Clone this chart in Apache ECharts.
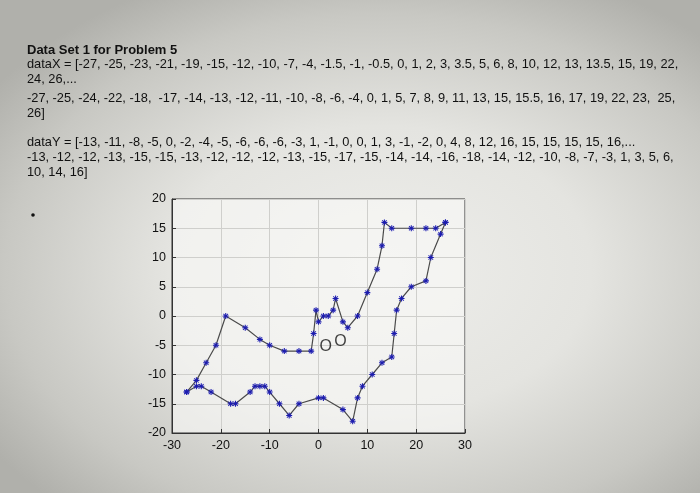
<!DOCTYPE html>
<html>
<head>
<meta charset="utf-8">
<script src="https://cdn.jsdelivr.net/npm/echarts@6/dist/echarts.min.js"></script>
<style>
html,body{margin:0;padding:0;width:700px;height:493px;overflow:hidden;}
body{background:radial-gradient(ellipse 470px 320px at 380px 270px,#eeeeeb 0%,#e4e4e0 45%,#c8c8c3 80%,#b0b0ab 100%);}
#c{width:700px;height:493px;}
</style>
</head>
<body>
<div id="c"></div>
<script>
// Upper outline of the figure (first half of dataX / dataY)
const upperX = [-27,-25,-23,-21,-19,-15,-12,-10,-7,-4,-1.5,-1,-0.5,0,1,2,3,3.5,5,6,8,10,12,13,13.5,15,19,22,24,26];
const upperY = [-13,-11,-8,-5,0,-2,-4,-5,-6,-6,-6,-3,1,-1,0,0,1,3,-1,-2,0,4,8,12,16,15,15,15,15,16];
// Lower outline (second half)
const lowerX = [-27,-25,-24,-22,-18,-17,-14,-13,-12,-11,-10,-8,-6,-4,0,1,5,7,8,9,11,13,15,15.5,16,17,19,22,23,25,26];
const lowerY = [-13,-12,-12,-13,-15,-15,-13,-12,-12,-12,-13,-15,-17,-15,-14,-14,-16,-18,-14,-12,-10,-8,-7,-3,1,3,5,6,10,14,16];
// Eye annotations
const eyes = [[1.5,-5.3,'O'],[4.5,-4.4,'O']];
// Axis ticks
const xTicks = {min:-30,max:30,step:10};
const yTicks = {min:-20,max:20,step:5};
// Text lines above the chart
const titleLine = 'Data Set 1 for Problem 5';
const textLines = [
 'dataX = [-27, -25, -23, -21, -19, -15, -12, -10, -7, -4, -1.5, -1, -0.5, 0, 1, 2, 3, 3.5, 5, 6, 8, 10, 12, 13, 13.5, 15, 19, 22,',
 '24, 26,...',
 '-27, -25, -24, -22, -18,  -17, -14, -13, -12, -11, -10, -8, -6, -4, 0, 1, 5, 7, 8, 9, 11, 13, 15, 15.5, 16, 17, 19, 22, 23,  25,',
 '26]',
 'dataY = [-13, -11, -8, -5, 0, -2, -4, -5, -6, -6, -6, -3, 1, -1, 0, 0, 1, 3, -1, -2, 0, 4, 8, 12, 16, 15, 15, 15, 15, 16,...',
 '-13, -12, -12, -13, -15, -15, -13, -12, -12, -12, -13, -15, -17, -15, -14, -14, -16, -18, -14, -12, -10, -8, -7, -3, 1, 3, 5, 6,',
 '10, 14, 16]'
];
const lineY = [65,80,99,114,143,158,173];

const star = 'path://M-0.18,-1H0.18V-0.35L0.65,-0.82L0.88,-0.6L0.38,-0.18H1V0.18H0.38L0.88,0.6L0.65,0.82L0.18,0.35V1H-0.18V0.35L-0.65,0.82L-0.88,0.6L-0.38,0.18H-1V-0.18H-0.38L-0.88,-0.6L-0.65,-0.82L-0.18,-0.35Z';

function pairs(xs, ys){ return xs.map((x,i)=>[x, ys[i]]); }

const graphics = [
 {type:'text', left:27, top:44, style:{text:titleLine, font:'bold 13px "Liberation Sans", Arial, sans-serif', fill:'#111'}}
];
textLines.forEach((t,i)=>{
 graphics.push({type:'text', left:27, top:lineY[i]-7, style:{text:t, font:'12.8px "Liberation Sans", Arial, sans-serif', fill:'#111'}});
});
graphics.push({type:'circle', shape:{cx:33, cy:215, r:1.8}, style:{fill:'#111'}});

const lineStyle = {color:'#4a4a4a', width:1.2};
const itemStyle = {color:'#1c1cb0'};

const chart = echarts.init(document.getElementById('c'), null, {renderer:'canvas'});
chart.setOption({
 backgroundColor:'transparent',
 animation:false,
 graphic: graphics,
 grid:{left:172, top:199, width:293, height:234, show:true, borderColor:'#333', borderWidth:1, backgroundColor:'rgba(250,250,248,0.6)'},
 xAxis:{type:'value', min:xTicks.min, max:xTicks.max, interval:xTicks.step,
   axisLine:{onZero:false, lineStyle:{color:'#333'}}, axisTick:{inside:true, length:4, lineStyle:{color:'#333'}},
   axisLabel:{color:'#111', fontSize:12.5, fontFamily:'Liberation Sans', margin:6},
   splitLine:{show:true, lineStyle:{color:'#cfcfcc', width:1}}},
 yAxis:{type:'value', min:yTicks.min, max:yTicks.max, interval:yTicks.step,
   axisLine:{show:true, onZero:false, lineStyle:{color:'#333'}}, axisTick:{show:true, inside:true, length:4, lineStyle:{color:'#333'}},
   axisLabel:{color:'#111', fontSize:12.5, fontFamily:'Liberation Sans', margin:6},
   splitLine:{show:true, lineStyle:{color:'#cfcfcc', width:1}}},
 series:[
  {type:'line', data:pairs(upperX, upperY), symbol:star, symbolSize:6, showAllSymbol:true, lineStyle:lineStyle, itemStyle:itemStyle},
  {type:'line', data:pairs(lowerX, lowerY), symbol:star, symbolSize:6, showAllSymbol:true, lineStyle:lineStyle, itemStyle:itemStyle},
  {type:'scatter', data:eyes.map(e=>[e[0],e[1]]), symbolSize:0, itemStyle:{color:'#111'},
   label:{show:true, position:'inside', formatter:(p)=>eyes[p.dataIndex][2], fontSize:16, color:'#111', textBorderWidth:0, fontFamily:'Liberation Sans'}}
 ]
});
</script>
</body>
</html>
